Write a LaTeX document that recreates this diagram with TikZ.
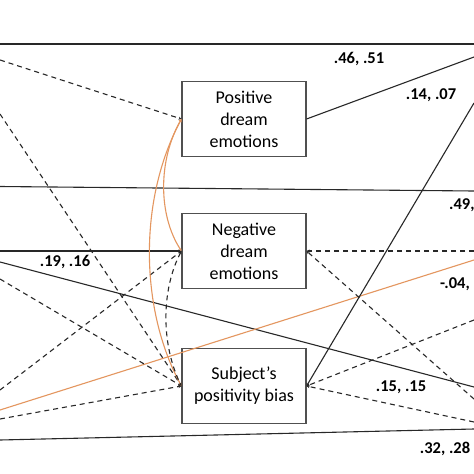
\documentclass[tikz,border=0pt]{standalone}
\usepackage{fontspec}
\setmainfont{Carlito}
\usetikzlibrary{arrows.meta}
\definecolor{lineclr}{RGB}{40,40,40}
\definecolor{boxclr}{RGB}{80,80,80}
\definecolor{orng}{RGB}{228,150,95}
\tikzset{
  mbox/.style={draw=boxclr, line width=1.1pt, minimum width=124pt, minimum height=75pt,
    align=center, inner sep=0pt, font=\fontsize{18}{22}\selectfont},
  lab/.style={font=\fontsize{16.5}{18}\selectfont\bfseries, inner sep=0pt},
  sl/.style={draw=lineclr, line width=1.1pt},
  dl/.style={draw=lineclr, line width=1.1pt, dash pattern=on 5pt off 4pt},
  ol/.style={draw=orng, line width=1.1pt},
  tip/.style={-{Stealth[length=3pt,width=3pt]}},
  tips/.style={{Stealth[length=3pt,width=3pt]}-{Stealth[length=3pt,width=3pt]}}
}
\begin{document}
\begin{tikzpicture}[x=1pt,y=-1pt]
\useasboundingbox (0,0) rectangle (474,474);
\fill[white] (0,0) rectangle (474,474);
\clip (0,0) rectangle (474,474);
% boxes
\node[mbox] (pos) at (244,119) {Positive\\dream\\emotions};
\node[mbox] (neg) at (244,251) {Negative\\dream\\emotions};
\node[mbox] (sub) at (244,386) {Subject’s\\positivity bias};
% free ends
\coordinate (L1a) at (0,44);   \coordinate (R1a) at (474,44);
\coordinate (L2) at (0,60);
\coordinate (L3) at (0,114);
\coordinate (L4) at (0,186.5); \coordinate (R4) at (474,191);
\coordinate (L5) at (0,251);
\coordinate (L6) at (0,262);   \coordinate (R6) at (474,387);
\coordinate (L7) at (0,279);
\coordinate (L8) at (0,390);
\coordinate (L9) at (0,410);   \coordinate (R9) at (474,260);
\coordinate (L10) at (0,419);
\coordinate (L11) at (0,440);  \coordinate (R11) at (474,429);
\coordinate (R13) at (474,57);
\coordinate (R14) at (474,103);
\coordinate (R15) at (474,251);
\coordinate (R16) at (474,399);
\coordinate (R17) at (474,320);
\coordinate (R18) at (474,422);
% through lines
\draw[sl] (L1a) -- (R1a);
\draw[sl] (L4) -- (R4);
\draw[sl] (L6) -- (R6);
\draw[sl] (L11) -- (R11);
\draw[ol] (L9) -- (R9);
% left side to boxes
\draw[dl,tip] (L2) -- (pos.west);
\draw[dl,tip] (L3) -- (sub.west);
\draw[sl,tip] (L5) -- (neg.west);
\draw[dl,tip] (L7) -- (sub.west);
\draw[dl,tip] (L8) -- (neg.west);
\draw[dl,tip] (L10) -- (sub.west);
% right side
\draw[sl] (pos.east) -- (R13);
\draw[sl,tip] (R14) -- (sub.east);
\draw[dl,tip] (R15) -- (neg.east);
\draw[dl,tip] (R16) -- (neg.east);
\draw[dl,tip] (R17) -- (sub.east);
\draw[dl,tip] (R18) -- (sub.east);
% covariances
\draw[ol,tips] (pos.west) .. controls (138,200) and (140,310) .. (sub.west);
\draw[ol,tips] (pos.west) .. controls (158,160) and (158,215) .. (neg.west);
\draw[dl,tips] (neg.west) .. controls (161,290) and (161,345) .. (sub.west);
% labels
\node[lab] (l1) at (359,59) {.46, .51};
\node[lab] (l2) at (431,95) {.14, .07};
\node[lab,anchor=west] (l3) at (449,205) {.49,};
\node[lab] (l4) at (65,262) {.19, .16};
\node[lab,anchor=west] (l5) at (440,284) {-.04,};
\node[lab] (l6) at (401,387) {.15, .15};
\node[lab] (l7) at (445,449) {.32, .28};
\end{tikzpicture}
\end{document}
